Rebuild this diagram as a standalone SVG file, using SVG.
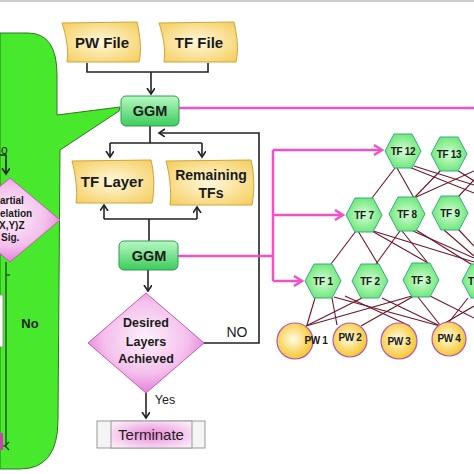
<svg xmlns="http://www.w3.org/2000/svg" width="474" height="474" viewBox="0 0 474 474">
<defs>
<radialGradient id="gY" cx="0.5" cy="0.5" r="0.7"><stop offset="0" stop-color="#fff8dc"/><stop offset="1" stop-color="#f4cc58"/></radialGradient>
<linearGradient id="gG" x1="0" y1="0" x2="0" y2="1"><stop offset="0" stop-color="#b8f8c4"/><stop offset="1" stop-color="#3ccc5c"/></linearGradient>
<radialGradient id="gP" cx="0.5" cy="0.45" r="0.6"><stop offset="0" stop-color="#fdf0fb"/><stop offset="0.6" stop-color="#f4c0ec"/><stop offset="1" stop-color="#e070d4"/></radialGradient>
<radialGradient id="gT" cx="0.5" cy="0.5" r="0.6"><stop offset="0" stop-color="#e88ad8"/><stop offset="1" stop-color="#fbe8f8"/></radialGradient>
<radialGradient id="gH" cx="0.5" cy="0.5" r="0.6"><stop offset="0" stop-color="#d8fbd8"/><stop offset="1" stop-color="#5de66a"/></radialGradient>
<radialGradient id="gC" cx="0.45" cy="0.45" r="0.6"><stop offset="0" stop-color="#fffbe6"/><stop offset="1" stop-color="#f4c21c"/></radialGradient>
<path id="hex" d="M-18,0 L-9,-17 L9,-17 L18,0 L9,17 L-9,17 Z"/>
<marker id="ab" markerWidth="10" markerHeight="10" refX="6" refY="4" orient="auto" markerUnits="userSpaceOnUse"><path d="M0,0 L6,4 L0,8" fill="none" stroke="#222" stroke-width="1.6"/></marker>
<marker id="ap" markerWidth="14" markerHeight="14" refX="9" refY="6" orient="auto" markerUnits="userSpaceOnUse"><path d="M1,1 L9,6 L1,11" fill="none" stroke="#f050c8" stroke-width="2.5"/></marker>
<style>
.file{fill:url(#gY);stroke:#d0a43a;stroke-width:1}
.ggm{fill:url(#gG);stroke:#2e9a50;stroke-width:1}
.dia{fill:url(#gP);stroke:#c858b8;stroke-width:1}
.hx{fill:url(#gH);stroke:#38a88a;stroke-width:1}
.pw{fill:url(#gC);stroke:#b058b8;stroke-width:1.2}
.bl{fill:none;stroke:#222;stroke-width:1.6}
.pk{fill:none;stroke:#f050c8;stroke-width:2.5}
.nt{fill:none;stroke:#6e1426;stroke-width:1.1}
.lb{font-family:"Liberation Sans",Arial,sans-serif;font-weight:bold;fill:#1a1a1a;text-anchor:middle}
.rg{font-family:"Liberation Sans",Arial,sans-serif;fill:#222;text-anchor:middle}
.ht{font-family:"Liberation Sans",Arial,sans-serif;font-weight:bold;fill:#1a1a1a;text-anchor:middle;font-size:10px;letter-spacing:-0.3px}
</style>
</defs>
<rect x="0" y="0" width="474" height="474" fill="#ffffff"/>
<rect x="0" y="0" width="474" height="2" fill="#cccccc"/>

<g id="callout">
<path d="M0,33 L28,33 Q57,33 57,75 L57,115 L120,107 L119,111 L60,150 L58,420 Q58,469 20,469 L0,469 Z" fill="#48e82c" stroke="#2a7a1c" stroke-width="1"/>
<text x="1" y="154" font-family="Liberation Sans,Arial,sans-serif" font-size="12" fill="#222">o</text>
<path class="bl" d="M0,155 H6 V174" marker-end="url(#ab)" stroke-width="1.3"/>
<path d="M10,178 L60,220 L10,262 L-40,220 Z" class="dia"/>
<text x="0" y="204" font-family="Liberation Sans,Arial,sans-serif" font-weight="bold" font-size="10" fill="#1a1a1a">artial</text>
<text x="0" y="217" font-family="Liberation Sans,Arial,sans-serif" font-weight="bold" font-size="10" fill="#1a1a1a">elation</text>
<text x="-1" y="229" font-family="Liberation Sans,Arial,sans-serif" font-weight="bold" font-size="10" fill="#1a1a1a">X,Y)Z</text>
<text x="1" y="241" font-family="Liberation Sans,Arial,sans-serif" font-weight="bold" font-size="10" fill="#1a1a1a">Sig.</text>
<path d="M6,262 V446 H3" fill="none" stroke="#1a3a1a" stroke-width="1.2"/>
<path d="M9,442 L5,446 L9,450" fill="none" stroke="#1a3a1a" stroke-width="1.2"/>
<path d="M6,275 H10" stroke="#1a3a1a" stroke-width="1.2"/>
<rect x="-2" y="295" width="5" height="52" fill="#ffffff" stroke="#888" stroke-width="0.8"/>
<rect x="-2" y="433" width="5" height="17" fill="#d040b0"/>
<text x="30" y="328" font-family="Liberation Sans,Arial,sans-serif" font-weight="bold" font-size="13" fill="#222" text-anchor="middle">No</text>
</g>

<g id="connectors">
<path class="bl" d="M87,63 V72 H208 V63"/>
<path class="bl" d="M151,72 V94" marker-end="url(#ab)"/>
<path class="bl" d="M150,126 V143 M110,143 H202"/>
<path class="bl" d="M110,143 V157" marker-end="url(#ab)"/>
<path class="bl" d="M202,143 V157" marker-end="url(#ab)"/>
<path class="bl" d="M204,343 H259 V133 H159" marker-end="url(#ab)"/>
<path class="bl" d="M149,241 V219 M104,219 H197"/>
<path class="bl" d="M104,219 V205" marker-end="url(#ab)"/>
<path class="bl" d="M197,219 V207" marker-end="url(#ab)"/>
<path class="bl" d="M148,270 V291" marker-end="url(#ab)"/>
<path class="bl" d="M146,393 V418" marker-end="url(#ab)"/>
<path class="pk" d="M179,108 H474"/>
<path class="pk" d="M178,256 H273 M273,150 V281"/>
<path class="pk" d="M273,150 H382" marker-end="url(#ap)"/>
<path class="pk" d="M273,215 H343" marker-end="url(#ap)"/>
<path class="pk" d="M273,281 H302" marker-end="url(#ap)"/>
<g class="nt">
<path d="M395,168 L372,198"/>
<path d="M397,168 L414,198"/>
<path d="M409,167 L474,193"/>
<path d="M414,166 L474,185"/>
<path d="M441,170 L414,198"/>
<path d="M474,171 L414,198"/>
<path d="M457,170 L474,181"/>
<path d="M458,197 L474,180"/>
<path d="M356,231 L331,264"/>
<path d="M358,231 L378,264"/>
<path d="M370,230 L474,262"/>
<path d="M372,231 L428,263"/>
<path d="M400,231 L376,264"/>
<path d="M402,231 L428,263"/>
<path d="M413,231 L474,258"/>
<path d="M416,230 L474,266"/>
<path d="M444,230 L474,256"/>
<path d="M458,229 L474,246"/>
<path d="M315,298 L307,325"/>
<path d="M332,298 L337,325"/>
<path d="M334,297 L440,326"/>
<path d="M345,296 L410,326"/>
<path d="M362,298 L306,326"/>
<path d="M382,298 L440,326"/>
<path d="M412,296 L306,326"/>
<path d="M414,296 L361,326"/>
<path d="M418,297 L440,325"/>
<path d="M430,296 L474,318"/>
<path d="M468,298 L449,322"/>
<path d="M474,306 L440,326"/>
</g>
</g>

<g id="pw-file"><path class="file" d="M62,23 L137,22 C140,35 142,50 139,62 L67,62 C69,50 66,35 62,23 Z"/><text class="lb" x="102" y="48" font-size="15">PW File</text></g>
<g id="tf-file"><path class="file" d="M159,23 L234,22 C237,35 239,50 236,62 L164,62 C166,50 163,35 159,23 Z"/><text class="lb" x="199" y="48" font-size="15">TF File</text></g>
<g id="ggm1"><rect class="ggm" x="121" y="96" width="58" height="30" rx="5"/><text class="lb" x="150" y="116" font-size="14.5">GGM</text></g>
<g id="tf-layer"><path class="file" d="M72,161 L151,160 C154,172 155,190 152,203 L76,203 C78,190 75,172 72,161 Z"/><text class="lb" x="112" y="187" font-size="15">TF Layer</text></g>
<g id="remaining"><path class="file" d="M166,161 L251,160 C254,172 255,190 252,205 L170,205 C172,190 169,172 166,161 Z"/><text class="lb" x="211" y="180" font-size="14">Remaining</text><text class="lb" x="211" y="198" font-size="14">TFs</text></g>
<g id="ggm2"><rect class="ggm" x="119" y="241" width="59" height="29" rx="5"/><text class="lb" x="149" y="261" font-size="14.5">GGM</text></g>
<g id="desired"><path class="dia" d="M146,293 L204,343 L146,393 L88,343 Z"/><text class="lb" x="146" y="327" font-size="12.5">Desired</text><text class="lb" x="146" y="346" font-size="12.5">Layers</text><text class="lb" x="146" y="363" font-size="12.5">Achieved</text></g>
<text class="rg" x="237" y="337" font-size="14">NO</text>
<text class="rg" x="165" y="404" font-size="12.5">Yes</text>
<g id="terminate"><rect x="97" y="421" width="108" height="27" fill="#f4f4f4" stroke="#999" stroke-width="1"/><rect x="111" y="421" width="81" height="27" fill="url(#gT)" stroke="#999" stroke-width="1"/><text class="rg" x="151" y="440" font-size="15">Terminate</text></g>

<g id="tf12"><use href="#hex" x="403" y="151" class="hx"/><text class="ht" x="403" y="155">TF 12</text></g>
<g id="tf13"><use href="#hex" x="449" y="154" class="hx"/><text class="ht" x="449" y="158">TF 13</text></g>
<g id="tf7"><use href="#hex" x="364" y="215" class="hx"/><text class="ht" x="364" y="219">TF 7</text></g>
<g id="tf8"><use href="#hex" x="407" y="214" class="hx"/><text class="ht" x="407" y="218">TF 8</text></g>
<g id="tf9"><use href="#hex" x="450" y="213" class="hx"/><text class="ht" x="450" y="217">TF 9</text></g>
<g id="tf1"><use href="#hex" x="323" y="281" class="hx"/><text class="ht" x="323" y="285">TF 1</text></g>
<g id="tf2"><use href="#hex" x="370" y="281" class="hx"/><text class="ht" x="370" y="285">TF 2</text></g>
<g id="tf3"><use href="#hex" x="421" y="280" class="hx"/><text class="ht" x="421" y="284">TF 3</text></g>
<g id="tf4"><use href="#hex" x="480" y="281" class="hx"/><text class="ht" x="471" y="285">T</text></g>

<g id="pw1"><circle class="pw" cx="295" cy="341" r="18"/><text class="ht" x="316" y="344">PW 1</text></g>
<g id="pw2"><circle class="pw" cx="350" cy="340" r="17"/><text class="ht" x="350" y="341">PW 2</text></g>
<g id="pw3"><circle class="pw" cx="399" cy="341" r="18"/><text class="ht" x="399" y="345">PW 3</text></g>
<g id="pw4"><circle class="pw" cx="449" cy="339" r="17"/><text class="ht" x="449" y="342">PW 4</text></g>
</svg>
